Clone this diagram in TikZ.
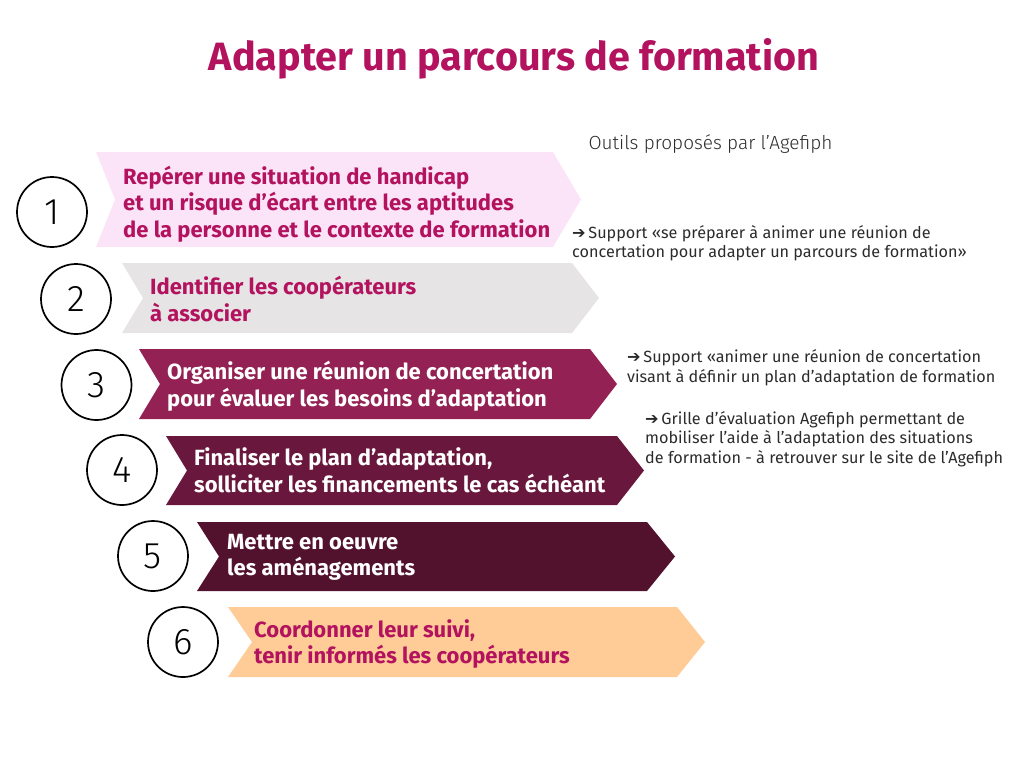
\documentclass[tikz,border=0pt]{standalone}
\usepackage{fontspec}
\setmainfont{Fira Sans}
\newfontfamily\lightfont{Fira Sans Light}
\newfontfamily\arrowfont{DejaVu Sans Bold}
\usetikzlibrary{positioning}

\definecolor{titlered}{HTML}{B3135E}
\definecolor{pinkbg}{HTML}{FCE4F8}
\definecolor{greybg}{HTML}{E6E4E5}
\definecolor{plumA}{HTML}{942153}
\definecolor{plumB}{HTML}{6A173D}
\definecolor{plumC}{HTML}{52122E}
\definecolor{peachbg}{HTML}{FFCB97}
\definecolor{tooltxt}{HTML}{2B2B2B}

\newcommand{\fleche}{{\arrowfont\char"2794}\,}

\begin{document}
\begin{tikzpicture}[x=1pt,y=-1pt,
    numcircle/.style={draw=black,line width=1.7pt,circle,minimum size=70pt,inner sep=0pt,
        font=\lightfont\fontsize{37}{37}\selectfont},
    steptext/.style={anchor=west,align=left,inner sep=0pt,
        font=\bfseries\fontsize{22}{26.5}\selectfont},
    tooltext/.style={anchor=west,align=left,inner sep=0pt,text=tooltxt,
        font=\fontsize{16.2}{19.5}\selectfont}]

\useasboundingbox (0,0) rectangle (1024,756);

\node [anchor=base,text=titlered,font=\bfseries\fontsize{39.5}{40}\selectfont] (title) at (514,70)
    {Adapter un parcours de formation};

\node [anchor=base west,text=tooltxt,font=\lightfont\fontsize{19}{20}\selectfont] (outils) at (585,149)
    {Outils proposés par l’Agefiph};

% chevrons
\fill [pinkbg]  (96,152) -- (553,152) -- (581,199.5) -- (553,247) -- (96,247) -- (115,199.5) -- cycle;
\fill [greybg]  (122,263) -- (572,263) -- (599,298) -- (572,333) -- (122,333) -- (143,298) -- cycle;
\fill [plumA]   (139,349) -- (590,349) -- (617,384) -- (590,419) -- (139,419) -- (160,384) -- cycle;
\fill [plumB]   (166,436) -- (617,436) -- (644,470.5) -- (617,505) -- (166,505) -- (187,470.5) -- cycle;
\fill [plumC]   (197,522) -- (647,522) -- (675,556.5) -- (647,591) -- (197,591) -- (219,556.5) -- cycle;
\fill [peachbg] (228,607) -- (677,607) -- (705,642) -- (677,677) -- (228,677) -- (252,642) -- cycle;

\node [numcircle] (c1) at (52,212) {1};
\node [numcircle] (c2) at (76,299) {2};
\node [numcircle] (c3) at (96.5,385) {3};
\node [numcircle] (c4) at (122,470) {4};
\node [numcircle] (c5) at (153,556) {5};
\node [numcircle] (c6) at (183,642) {6};

\node [steptext,text=titlered] (s1) at (123,204)
    {Repérer une situation de handicap\\et un risque d’écart entre les aptitudes\\de la personne et le contexte de formation};
\node [steptext,text=titlered] (s2) at (150,298.75)
    {Identifier les coopérateurs\\à associer};
\node [steptext,text=white] (s3) at (167,386)
    {Organiser une réunion de concertation\\pour évaluer les besoins d’adaptation};
\node [steptext,text=white] (s4) at (194,470.25)
    {Finaliser le plan d’adaptation,\\solliciter les financements le cas échéant};
\node [steptext,text=white] (s5) at (227,557.5)
    {Mettre en oeuvre\\les aménagements};
\node [steptext,text=titlered] (s6) at (254,644)
    {Coordonner leur suivi,\\tenir informés les coopérateurs};

\node [tooltext] (t1) at (572,243)
    {\fleche Support «se préparer à animer une réunion de\\concertation pour adapter un parcours de formation»};
\node [tooltext] (t2) at (627,367.6)
    {\fleche Support «animer une réunion de concertation\\visant à définir un plan d’adaptation de formation};
\node [tooltext] (t3) at (645,439)
    {\fleche Grille d’évaluation Agefiph permettant de\\mobiliser l’aide à l’adaptation des situations\\de formation - à retrouver sur le site de l’Agefiph};

\end{tikzpicture}
\end{document}
